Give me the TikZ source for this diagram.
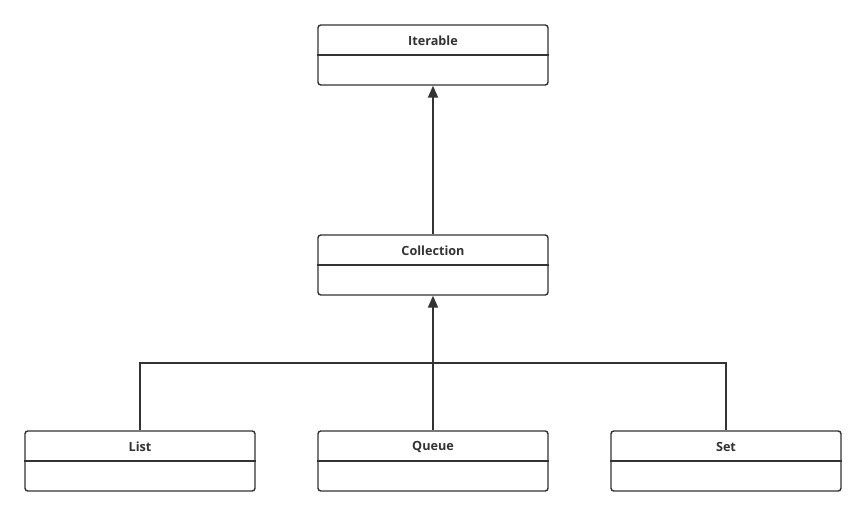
\documentclass[tikz,border=0pt]{standalone}
\usepackage{fontspec}
\setmainfont{Open Sans}
\usetikzlibrary{arrows.meta,positioning,calc}
\definecolor{umlline}{RGB}{51,51,51}

\begin{document}
\begin{tikzpicture}[every node/.style={font=\fontsize{9}{11}\selectfont\bfseries, text=umlline}]
    % Define styles
    \tikzset{classbox/.style={rectangle, draw=umlline, line width=1pt, fill=white, rounded corners=2pt,
                              minimum width=5.75cm, minimum height=1.5cm}}
    \tikzset{inherit/.style={umlline, line width=1.3pt, -{Triangle[length=0.3cm,width=0.25cm]}}}
    \useasboundingbox (0,0) rectangle (21.65,12.9);

    % Classes
    \node[classbox] (iterable) at (10.825,11.525) {};
    \node[classbox] (collection) at (10.825,6.275) {};
    \node[classbox] (list) at (3.5,1.375) {};
    \node[classbox] (queue) at (10.825,1.375) {};
    \node[classbox] (set) at (18.15,1.375) {};

    % Names and dividers
    \foreach \cls/\txt in {iterable/Iterable, collection/Collection, list/List, queue/Queue, set/Set} {
        \node at ($(\cls.north)!0.27!(\cls.south)$) {\txt};
        \draw[umlline, line width=1pt] (\cls.west) -- (\cls.east);
    }

    % Inheritance
    \coordinate (bus) at (10.825,3.825);
    \draw[inherit] (collection) -- (iterable);
    \draw[umlline, line width=1.3pt] (list.north) |- (bus) -| (set.north);
    \draw[inherit] (queue.north) -- (collection.south);
\end{tikzpicture}
\end{document}
